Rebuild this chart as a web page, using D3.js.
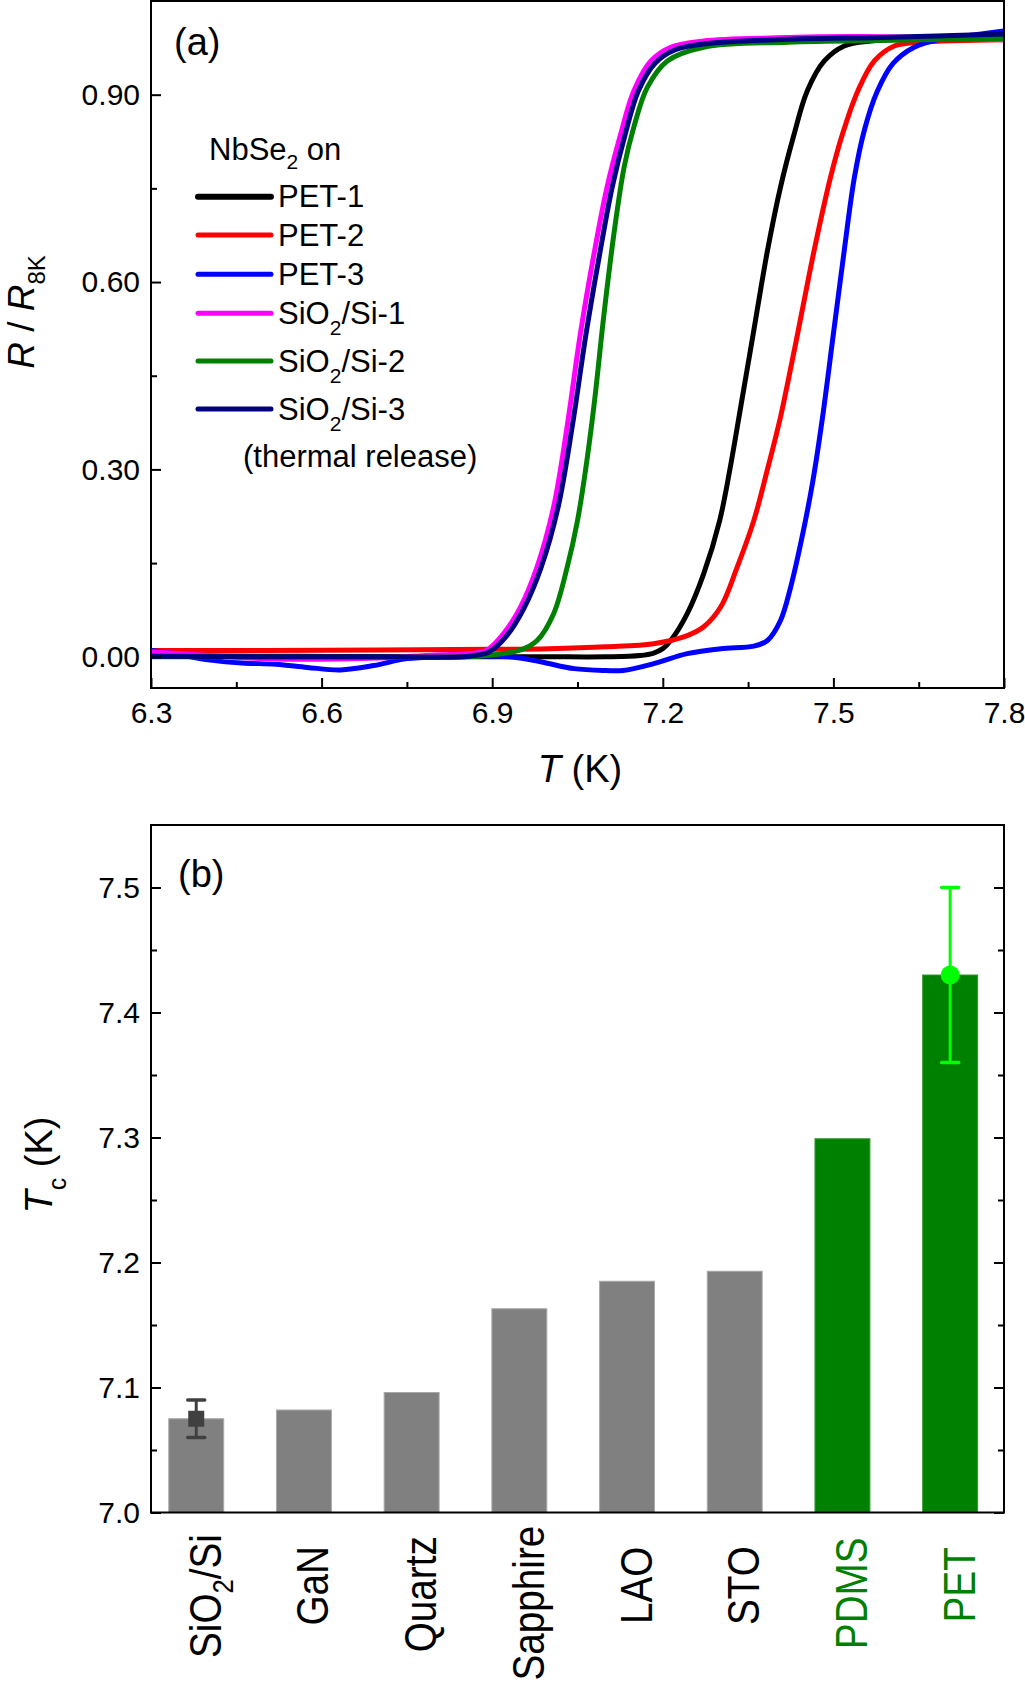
<!DOCTYPE html>
<html><head><meta charset="utf-8">
<script src="https://cdn.jsdelivr.net/npm/d3@7"></script>
<style>
body{margin:0;background:#fff}
svg{display:block}
text{font-family:"Liberation Sans",Arial,Helvetica,sans-serif;fill:#000}
</style>
</head><body>
<svg id="c" width="1025" height="1684"></svg>
<script>
// ---------------- DATA ----------------
// Panel (a): R/R8K vs T for NbSe2 on various substrates
const seriesNames = ["PET-1","PET-2","PET-3","SiO2/Si-1","SiO2/Si-2","SiO2/Si-3"];
const pet1 = [[6.30,0.001],[6.50,0.001],[6.70,0.000],[6.90,0.000],[7.00,0.000],[7.10,0.000],[7.16,0.002],[7.184,0.006],[7.200,0.013],[7.214,0.026],[7.243,0.069],[7.272,0.133],[7.300,0.218],[7.318,0.300],[7.337,0.400],[7.359,0.517],[7.384,0.650],[7.407,0.752],[7.431,0.837],[7.454,0.906],[7.484,0.954],[7.519,0.978],[7.566,0.986],[7.65,0.989],[7.80,0.994]];
const pet2 = [[6.30,0.010],[6.50,0.010],[6.70,0.011],[6.90,0.012],[7.00,0.013],[7.10,0.016],[7.184,0.021],[7.243,0.034],[7.272,0.048],[7.302,0.080],[7.331,0.144],[7.360,0.218],[7.384,0.300],[7.407,0.384],[7.437,0.517],[7.466,0.650],[7.495,0.768],[7.516,0.837],[7.543,0.906],[7.572,0.954],[7.607,0.978],[7.654,0.984],[7.80,0.988]];
const pet3 = [[6.30,0.010],[6.34,0.005],[6.40,-0.005],[6.46,-0.010],[6.52,-0.012],[6.575,-0.017],[6.633,-0.021],[6.692,-0.014],[6.75,-0.003],[6.81,0.000],[6.93,0.000],[6.985,-0.008],[7.044,-0.019],[7.10,-0.022],[7.13,-0.022],[7.184,-0.011],[7.243,0.005],[7.302,0.013],[7.360,0.017],[7.384,0.026],[7.407,0.058],[7.425,0.112],[7.445,0.192],[7.464,0.282],[7.481,0.384],[7.500,0.517],[7.519,0.650],[7.537,0.768],[7.555,0.845],[7.577,0.905],[7.605,0.950],[7.642,0.976],[7.689,0.989],[7.75,0.996],[7.80,1.002]];
const sio1 = [[6.30,0.008],[6.40,0.002],[6.50,-0.003],[6.60,-0.004],[6.70,-0.002],[6.80,0.003],[6.86,0.005],[6.891,0.011],[6.920,0.037],[6.950,0.080],[6.979,0.144],[7.008,0.240],[7.032,0.370],[7.055,0.517],[7.079,0.645],[7.102,0.752],[7.126,0.837],[7.149,0.906],[7.179,0.954],[7.214,0.976],[7.272,0.986],[7.40,0.991],[7.55,0.993],[7.80,0.988]];
const sio2 = [[6.30,0.000],[6.60,0.000],[6.85,0.000],[6.90,0.003],[6.950,0.011],[6.979,0.026],[7.008,0.069],[7.032,0.144],[7.050,0.218],[7.064,0.298],[7.080,0.410],[7.096,0.544],[7.114,0.677],[7.132,0.784],[7.149,0.848],[7.173,0.912],[7.208,0.954],[7.272,0.976],[7.42,0.984],[7.60,0.987],[7.80,0.990]];
const sio3 = [[6.30,0.001],[6.50,0.000],[6.70,0.000],[6.86,0.001],[6.895,0.008],[6.925,0.033],[6.956,0.078],[6.986,0.143],[7.016,0.240],[7.041,0.370],[7.065,0.517],[7.089,0.645],[7.111,0.752],[7.134,0.837],[7.157,0.906],[7.186,0.950],[7.222,0.972],[7.28,0.982],[7.40,0.988],[7.60,0.992],[7.80,0.997]];
const seriesData = [pet1, pet2, pet3, sio1, sio2, sio3];
const xTicksA = [6.3,6.6,6.9,7.2,7.5,7.8];
const xMinorA = [6.45,6.75,7.05,7.35,7.65];
const yTicksA = [0.00,0.30,0.60,0.90];
const yMinorA = [0.15,0.45,0.75];

// Panel (b): Tc by substrate
const categories = ["SiO2/Si","GaN","Quartz","Sapphire","LAO","STO","PDMS","PET"];
const tcValues   = [7.075,7.082,7.096,7.163,7.185,7.193,7.299,7.430];
const substrateKind = ["rigid","rigid","rigid","rigid","rigid","rigid","flexible","flexible"];
const errCats  = ["SiO2/Si","PET"];
const errMean  = [7.075,7.430];
const errLow   = [7.060,7.360];
const errHigh  = [7.090,7.500];
const yTicksB = [7.0,7.1,7.2,7.3,7.4,7.5];
const yMinorB = [7.05,7.15,7.25,7.35,7.45];

// ---------------- STYLE / LAYOUT ----------------
const colors = ["#000000","#ff0000","#0000ff","#ff00ff","#008000","#000080"];
const svg = d3.select("#c");
const L = 151, R = 1004;
const A = {top:1, bottom:688};
const B = {top:825, bottom:1512.5};
const FONT = 30;

function addSubText(sel, str, subSize, subDy){
  // renders "SiO2" style subscripts
  const parts = str.split(/(O2)/);
  let pending = 0;
  parts.forEach(p=>{
    if(p==="O2"){
      sel.append("tspan").attr("dy",pending||null).text("O");
      sel.append("tspan").attr("font-size",subSize).attr("dy",subDy).text("2");
      pending = -subDy;
    } else if(p.length){
      sel.append("tspan").attr("dy",pending||null).text(p);
      pending = 0;
    }
  });
}

// ======== Panel (a) ========
const xA = d3.scaleLinear().domain([6.3,7.8]).range([L,R]);
const yA = d3.scaleLinear().domain([-0.05,1.05]).range([A.bottom,A.top]);

svg.append("clipPath").attr("id","clipA").append("rect")
  .attr("x",L).attr("y",A.top).attr("width",R-L).attr("height",A.bottom-A.top);

const line = d3.line().x(d=>xA(d[0])).y(d=>yA(d[1])).curve(d3.curveCatmullRom.alpha(0.5));
const gLines = svg.append("g").attr("clip-path","url(#clipA)");
seriesData.forEach((s,i)=>{
  gLines.append("path").attr("d",line(s)).attr("fill","none")
    .attr("stroke",colors[i]).attr("stroke-width",5).attr("stroke-linejoin","round").attr("stroke-linecap","round");
});

function styleAxis(g){
  g.select(".domain").remove();
  g.selectAll(".tick line").attr("stroke","#000").attr("stroke-width",2);
  g.selectAll(".tick text").attr("font-size",FONT).attr("font-family",'"Liberation Sans",Arial,sans-serif').attr("fill","#000");
}
// x axis (a)
svg.append("g").attr("transform",`translate(0,${A.bottom})`)
  .call(d3.axisBottom(xA).tickValues(xTicksA).tickFormat(d3.format(".1f")).tickSize(-10).tickPadding(14))
  .call(styleAxis);
svg.append("g").attr("transform",`translate(0,${A.bottom})`)
  .call(d3.axisBottom(xA).tickValues(xMinorA).tickFormat("").tickSize(-6))
  .call(styleAxis);
// y axis (a)
svg.append("g").attr("transform",`translate(${L},0)`)
  .call(d3.axisLeft(yA).tickValues(yTicksA).tickFormat(d3.format(".2f")).tickSize(-10).tickPadding(11))
  .call(styleAxis);
svg.append("g").attr("transform",`translate(${L},0)`)
  .call(d3.axisLeft(yA).tickValues(yMinorA).tickFormat("").tickSize(-6))
  .call(styleAxis);
svg.append("rect").attr("x",L).attr("y",A.top).attr("width",R-L).attr("height",A.bottom-A.top)
  .attr("fill","none").attr("stroke","#000").attr("stroke-width",2);

// panel label
svg.append("text").attr("x",174).attr("y",55).attr("font-size",38).text("(a)");

// axis titles (a)
const tx = svg.append("text").attr("x",580).attr("y",782).attr("font-size",38).attr("text-anchor","middle");
tx.append("tspan").attr("font-style","italic").text("T");
tx.append("tspan").text(" (K)");

const ty = svg.append("text").attr("transform","translate(34,312) rotate(-90)").attr("font-size",37).attr("text-anchor","middle");
ty.append("tspan").attr("font-style","italic").text("R");
ty.append("tspan").text(" / ");
ty.append("tspan").attr("font-style","italic").text("R");
ty.append("tspan").attr("font-size",24).attr("dy",11).text("8K");

// legend
const LFONT = 31;
const lg = svg.append("g");
const t0 = lg.append("text").attr("x",209).attr("y",160).attr("font-size",LFONT);
t0.append("tspan").text("NbSe");
t0.append("tspan").attr("font-size",21).attr("dy",9).text("2");
t0.append("tspan").attr("dy",-9).text(" on");
const legendY = [196.7,235,274.3,313.3,361,409];
seriesNames.forEach((n,i)=>{
  lg.append("line").attr("x1",198).attr("x2",271).attr("y1",legendY[i]).attr("y2",legendY[i])
    .attr("stroke",colors[i]).attr("stroke-width",i===0?6:5).attr("stroke-linecap","round");
  const t = lg.append("text").attr("x",278).attr("y",legendY[i]+10.5).attr("font-size",LFONT);
  addSubText(t, n, 21, 11);
});
lg.append("text").attr("x",243).attr("y",467).attr("font-size",LFONT).text("(thermal release)");

// ======== Panel (b) ========
const xB = d3.scaleLinear().domain([0.58,8.5]).range([L,R]);
const yB = d3.scaleLinear().domain([7.0,7.55]).range([B.bottom,B.top]);
const barW = xB(1.51)-xB(1.0);
const barFill = {rigid:"#808080", flexible:"#008000"};
const barEdge = {rigid:"#a8a8a8", flexible:"#2f9a2f"};
const labelFill = {rigid:"#000000", flexible:"#008000"};

categories.forEach((c,i)=>{
  const cx = xB(i+1);
  svg.append("rect").attr("x",cx-barW/2).attr("y",yB(tcValues[i]))
    .attr("width",barW).attr("height",yB(7.0)-yB(tcValues[i]))
    .attr("fill",barFill[substrateKind[i]]).attr("stroke",barEdge[substrateKind[i]]).attr("stroke-width",1);
});

// error bars
errCats.forEach((c,j)=>{
  const i = categories.indexOf(c);
  const cx = xB(i+1);
  const col = j===0 ? "#404040" : "#00ff00";
  const g = svg.append("g");
  g.append("line").attr("x1",cx).attr("x2",cx).attr("y1",yB(errLow[j])).attr("y2",yB(errHigh[j]))
    .attr("stroke",col).attr("stroke-width",3);
  [errLow[j],errHigh[j]].forEach(v=>{
    g.append("line").attr("x1",cx-8.5).attr("x2",cx+8.5).attr("y1",yB(v)).attr("y2",yB(v))
      .attr("stroke",col).attr("stroke-width",3.5).attr("stroke-linecap","round");
  });
  if(j===0){
    g.append("rect").attr("x",cx-8).attr("y",yB(errMean[j])-8).attr("width",16).attr("height",16).attr("fill",col);
  } else {
    g.append("circle").attr("cx",cx).attr("cy",yB(errMean[j])).attr("r",9.5).attr("fill",col);
  }
});

// axes (b)
svg.append("g").attr("transform",`translate(${L},0)`)
  .call(d3.axisLeft(yB).tickValues(yTicksB).tickFormat(d3.format(".1f")).tickSize(-10).tickPadding(11))
  .call(styleAxis);
svg.append("g").attr("transform",`translate(${L},0)`)
  .call(d3.axisLeft(yB).tickValues(yMinorB).tickFormat("").tickSize(-6))
  .call(styleAxis);
svg.append("g").attr("transform",`translate(${R},0)`)
  .call(d3.axisRight(yB).tickValues(yTicksB).tickFormat("").tickSize(-10))
  .call(styleAxis);
svg.append("g").attr("transform",`translate(${R},0)`)
  .call(d3.axisRight(yB).tickValues(yMinorB).tickFormat("").tickSize(-6))
  .call(styleAxis);
svg.append("rect").attr("x",L).attr("y",B.top).attr("width",R-L).attr("height",B.bottom-B.top)
  .attr("fill","none").attr("stroke","#000").attr("stroke-width",2);

svg.append("text").attr("x",178).attr("y",887).attr("font-size",38).text("(b)");

// category labels (rotated)
categories.forEach((c,i)=>{
  const cx = xB(i+1);
  const t = svg.append("text").attr("font-size",44).attr("text-anchor","end")
    .attr("fill",labelFill[substrateKind[i]]);
  addSubText(t, c, 29, 12);
  t.selectAll("tspan").attr("fill",labelFill[substrateKind[i]]);
  const len = t.node().getComputedTextLength()*0.88;
  const topY = 1567.5 - 0.27*len;
  t.attr("transform",`translate(${cx+24.5},${topY}) rotate(-90) scale(0.88,1)`);
});

// y title (b)
const tyb = svg.append("text").attr("transform","translate(51.7,1165) rotate(-90)").attr("font-size",38).attr("text-anchor","middle");
tyb.append("tspan").attr("font-style","italic").text("T");
tyb.append("tspan").attr("font-size",25).attr("dy",14).text("c");
tyb.append("tspan").attr("dy",-14).text(" (K)");
</script>
</body></html>
